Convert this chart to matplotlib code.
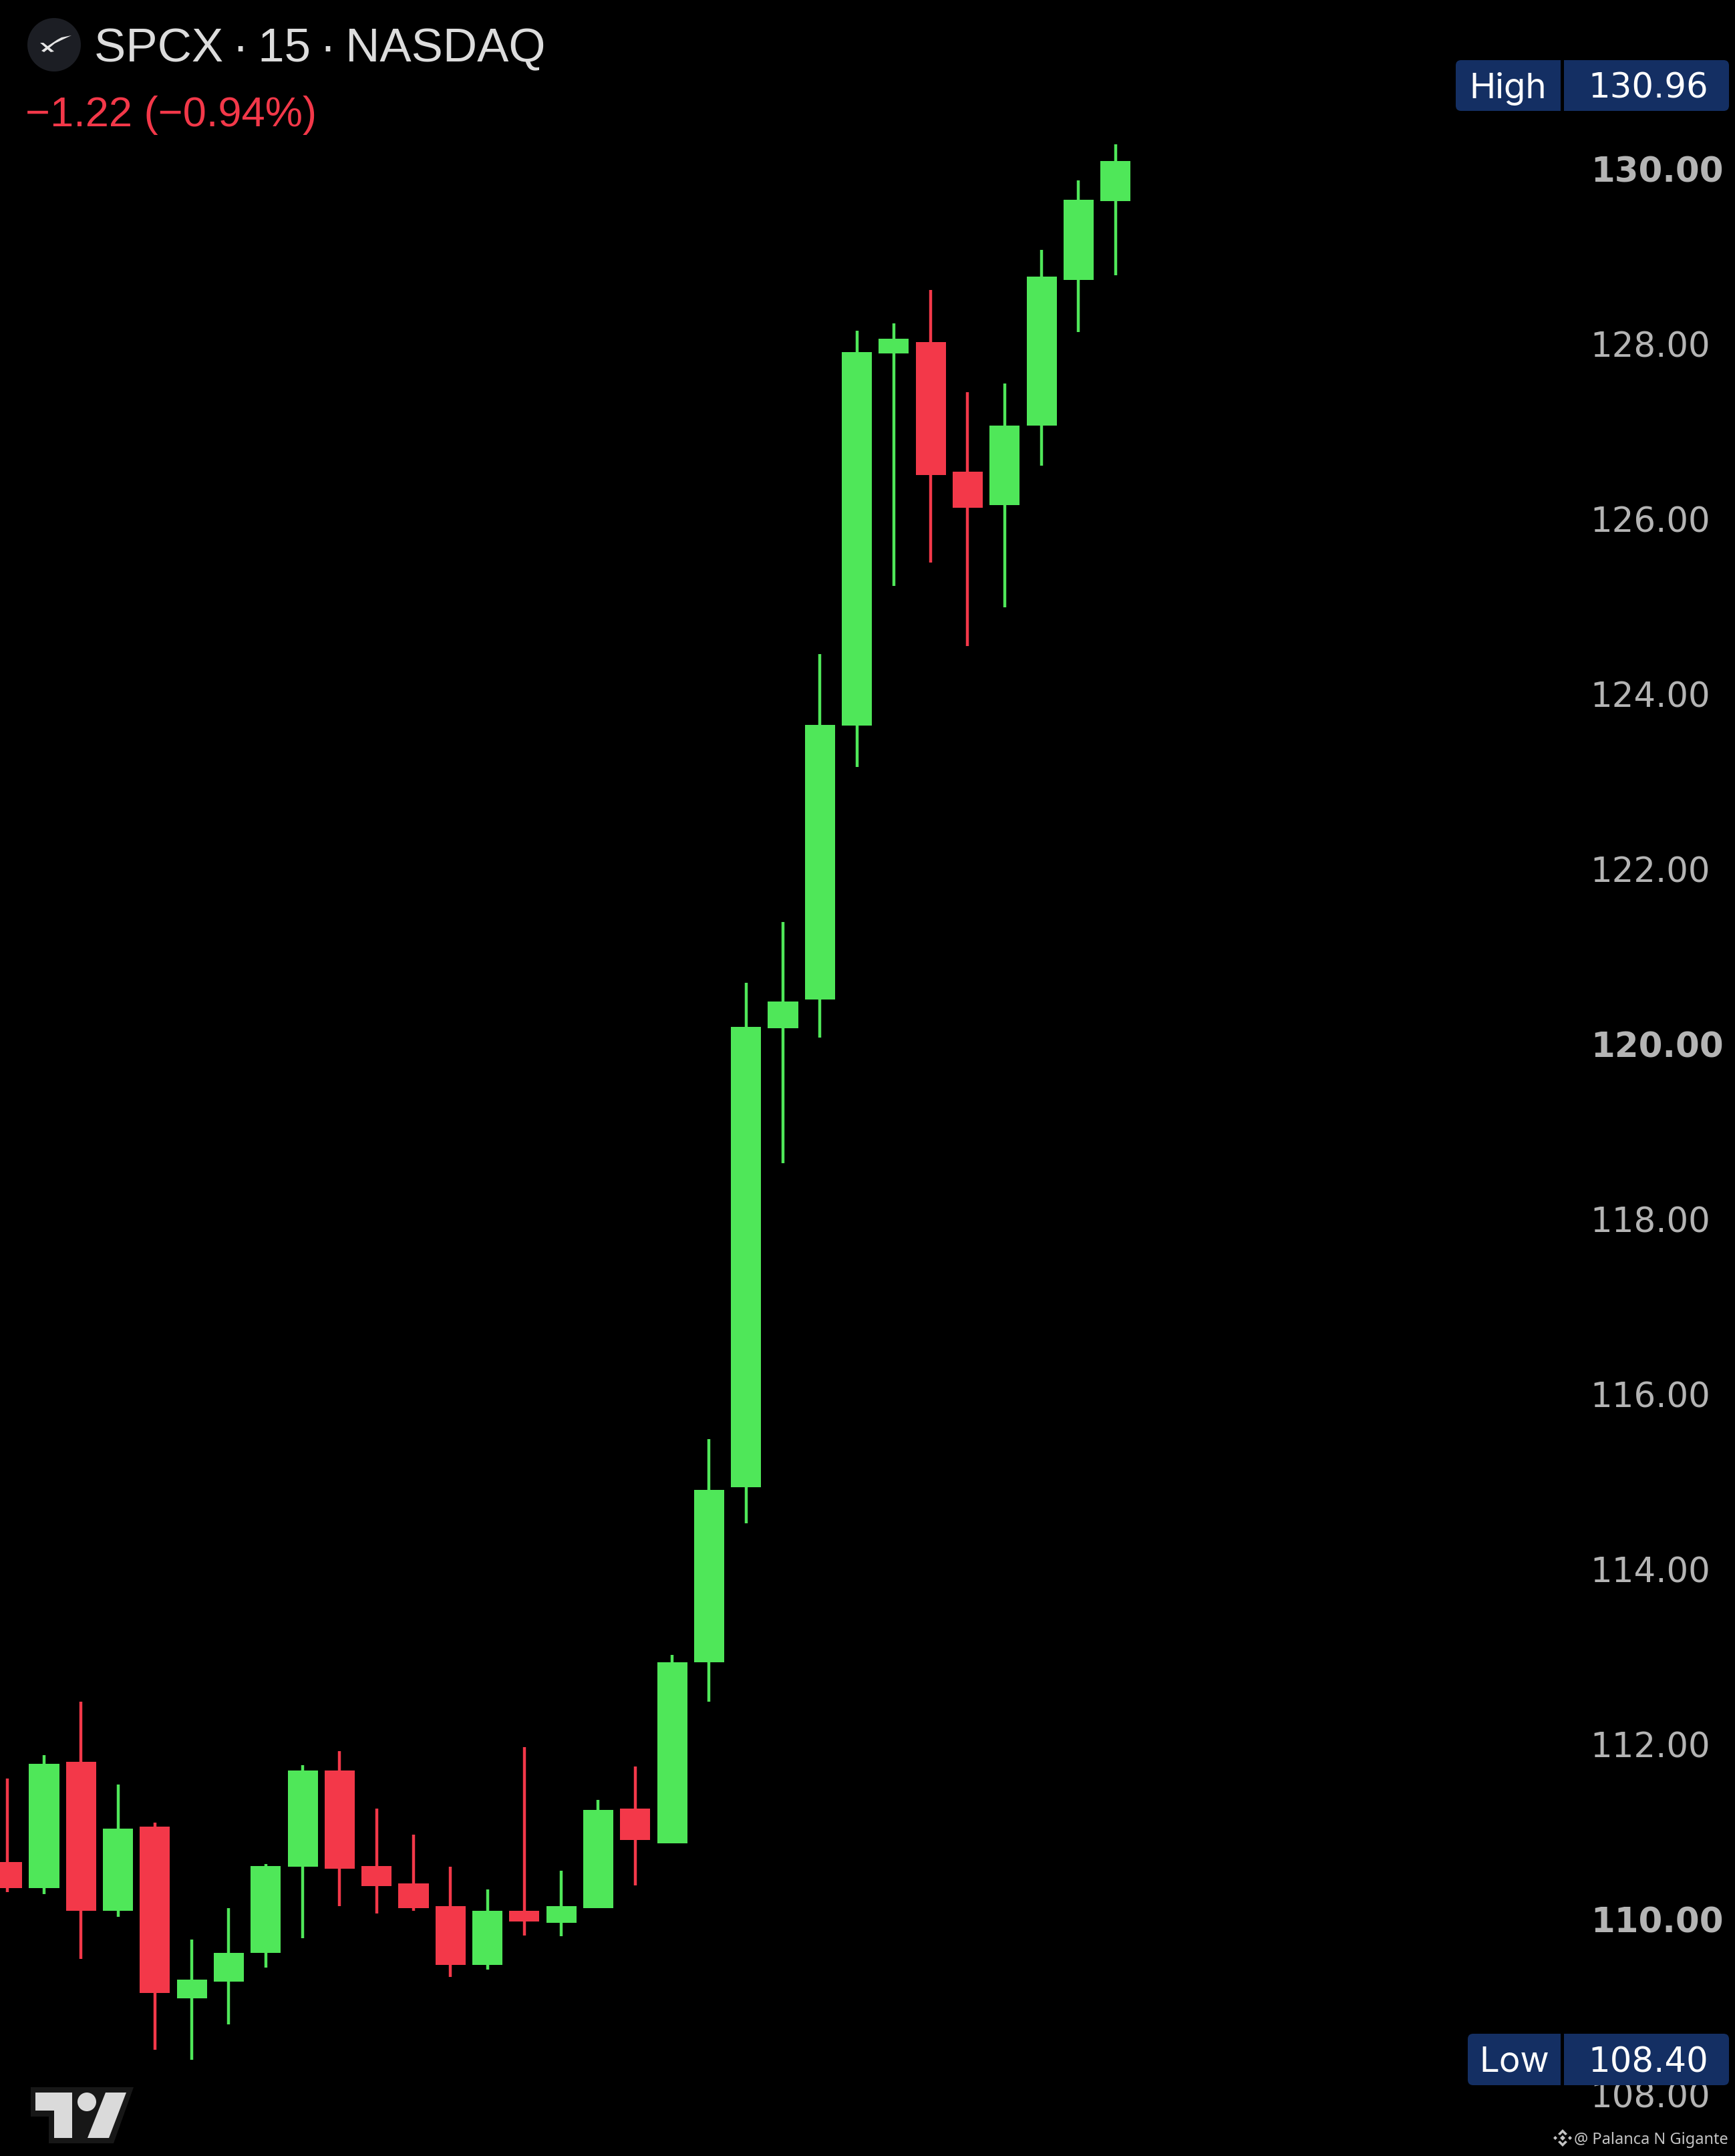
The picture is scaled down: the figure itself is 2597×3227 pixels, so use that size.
import numpy as np
import matplotlib
matplotlib.use("Agg")
import matplotlib.pyplot as plt
from matplotlib.patches import Polygon, Circle, FancyBboxPatch, PathPatch
from matplotlib.path import Path
from matplotlib.transforms import Affine2D

# candles (SPCX 15 min)
opens = [110.66, 110.36, 111.80, 110.10, 111.06, 109.10, 109.29, 109.62, 110.60, 111.70, 110.61, 110.41, 110.15,
         109.48, 110.10, 109.96, 110.13, 111.27, 110.87, 112.94, 114.94, 120.18, 120.51, 123.64, 127.89, 128.02,
         126.54, 126.16, 127.07, 128.73, 129.63]
highs = [111.61, 111.88, 112.49, 111.54, 111.11, 109.77, 110.13, 110.63, 111.76, 111.92, 111.27, 110.97, 110.60,
         110.34, 111.97, 110.56, 111.37, 111.75, 113.02, 115.49, 120.70, 121.40, 124.46, 128.15, 128.24, 128.62,
         127.45, 127.55, 129.08, 129.87, 130.28]
lows = [110.31, 110.29, 109.55, 110.03, 108.51, 108.40, 108.80, 109.45, 109.79, 110.15, 110.07, 110.10, 109.34,
        109.43, 109.82, 109.81, 110.13, 110.39, 110.87, 112.49, 114.53, 118.64, 120.08, 123.17, 125.24, 125.50,
        124.55, 124.99, 126.61, 128.14, 128.79]
closes = [110.36, 111.78, 110.10, 111.04, 109.16, 109.31, 109.62, 110.61, 111.70, 110.58, 110.38, 110.13, 109.48,
          110.10, 109.98, 110.15, 111.25, 110.91, 112.94, 114.91, 120.20, 120.49, 123.65, 127.91, 128.06, 126.50,
          126.13, 127.07, 128.77, 129.65, 130.09]

price_ticks = [130, 128, 126, 124, 122, 120, 118, 116, 114, 112, 110, 108]
bold_ticks = [130, 120, 110]

GREEN = "#4fe759"
RED = "#f33849"
NAVY = "#142f63"
TICK_GREY = "#b4b4b4"
UI_FONT = ["Inter", "DejaVu Sans"]
HEAD_FONT = ["Liberation Sans", "DejaVu Sans"]
DIGIT_FONT = ["DejaVu Sans"]

W, H = 2597, 3227
fig = plt.figure(figsize=(W / 100, H / 100), dpi=100, facecolor="black")
ax = fig.add_axes([0, 0, 1, 1], facecolor="black")
px = Affine2D().scale(1 / W, -1 / H).translate(0, 1) + fig.transFigure

idx = np.arange(len(opens))
op, hi, lo, cl = map(np.array, (opens, highs, lows, closes))
colors = [GREEN if c >= o else RED for o, c in zip(op, cl)]

ax.vlines(idx, lo, hi, colors=colors, linewidth=3.2, capstyle="butt", zorder=2)
ax.bar(idx, np.abs(cl - op), bottom=np.minimum(op, cl), width=0.814, color=colors, linewidth=0, zorder=3)

# candle spacing is 55.3 px, first candle centre at 10.7 px; 131 px per price unit, 130 at 253 px
ax.set_xlim(-10.7 / 55.3, (W - 10.7) / 55.3)
ax.set_ylim(130 - (H - 253) / 131, 130 + 253 / 131)
ax.set_xticks([])
for s in ax.spines.values():
    s.set_visible(False)

ax.set_yticks(price_ticks)
ax.set_yticklabels([f"{p:.2f}" for p in price_ticks])
ax.tick_params(axis="y", left=False, right=False, labelleft=False, labelright=True,
               pad=-(W - 2376) * 0.72, labelsize=37, labelcolor=TICK_GREY)
for p, lab in zip(price_ticks, ax.get_yticklabels(which="major")):
    lab.set_family(DIGIT_FONT)
    if p in bold_ticks:
        lab.set_fontweight("bold")
for lab in ax.yaxis.get_ticklabels():
    lab.set_horizontalalignment("left")


def badge(x0, x1, y0, y1, name, value, name_x):
    box = FancyBboxPatch((x0 + 8, y0 + 8), x1 - x0 - 16, y1 - y0 - 16, boxstyle="round,pad=8,rounding_size=8",
                         facecolor=NAVY, edgecolor="none", transform=px, zorder=5)
    fig.add_artist(box)
    fig.add_artist(Polygon([(2336, y0 - 1), (2341, y0 - 1), (2341, y1 + 1), (2336, y1 + 1)], closed=True,
                           facecolor="black", edgecolor="none", transform=px, zorder=6))
    mid = (y0 + y1) / 2 - 1
    fig.text(name_x, mid, name, transform=px, color="white", fontsize=38, family=UI_FONT,
             ha="left", va="center_baseline", zorder=7)
    fig.text(2377, mid, value, transform=px, color="white", fontsize=37, family=DIGIT_FONT,
             ha="left", va="center_baseline", zorder=7)


badge(2179, 2588, 90, 166, "High", "130.96", 2199)
badge(2197, 2588, 3044, 3121, "Low", "108.40", 2214)

# header
fig.add_artist(Circle((81, 67), 40, facecolor="#1c1e24", edgecolor="none", transform=px, zorder=5))
swoosh = Path([(62, 76), (80, 62), (92, 56), (107, 53), (94, 59), (82, 65), (66, 78), (62, 76)],
              [Path.MOVETO, Path.CURVE3, Path.CURVE3, Path.LINETO, Path.CURVE3, Path.CURVE3, Path.LINETO, Path.CLOSEPOLY])
fig.add_artist(PathPatch(swoosh, facecolor="#e6e6e6", edgecolor="none", transform=px, zorder=6))
fig.add_artist(Polygon([(60, 64), (65, 64), (81, 77), (76, 78)], closed=True, facecolor="#e6e6e6",
                       edgecolor="none", transform=px, zorder=6))
fig.text(141, 67, "SPCX\u2009·\u200915\u2009·\u2009NASDAQ", transform=px, color="#dcdcdc", fontsize=51, family=HEAD_FONT,
         ha="left", va="center_baseline", zorder=7)
fig.text(38, 166, "\u22121.22 (\u22120.94%)", transform=px, color=RED, fontsize=45.5, family=HEAD_FONT,
         ha="left", va="center_baseline", zorder=7)

# TradingView logo
fig.add_artist(Polygon([(46, 3124), (200, 3124), (170, 3208), (73, 3208), (73, 3168), (46, 3168)], closed=True,
                       facecolor="#171717", edgecolor="none", transform=px, zorder=5))
fig.add_artist(Polygon([(53, 3132), (108, 3132), (108, 3200), (81, 3200), (81, 3159), (53, 3159)], closed=True,
                       facecolor="#dadada", edgecolor="none", transform=px, zorder=6))
fig.add_artist(Circle((130, 3146), 14, facecolor="#dadada", edgecolor="none", transform=px, zorder=6))
fig.add_artist(Polygon([(158, 3132), (189, 3132), (163, 3200), (131, 3200)], closed=True, facecolor="#dadada",
                       edgecolor="none", transform=px, zorder=6))

# watermark with the small diamond icon
cx, cy = 2339, 3200
for dx, dy, r in [(0, 0, 4), (-11, 0, 3), (11, 0, 3)]:
    fig.add_artist(Polygon([(cx + dx - r, cy + dy), (cx + dx, cy + dy - r), (cx + dx + r, cy + dy), (cx + dx, cy + dy + r)],
                           closed=True, facecolor="#c4c4c4", edgecolor="none", transform=px, zorder=6))
fig.add_artist(Polygon([(cx - 7, cy - 6), (cx, cy - 13), (cx + 7, cy - 6), (cx + 4, cy - 4), (cx, cy - 8), (cx - 4, cy - 4)],
                       closed=True, facecolor="#c4c4c4", edgecolor="none", transform=px, zorder=6))
fig.add_artist(Polygon([(cx - 7, cy + 6), (cx, cy + 13), (cx + 7, cy + 6), (cx + 4, cy + 4), (cx, cy + 8), (cx - 4, cy + 4)],
                       closed=True, facecolor="#c4c4c4", edgecolor="none", transform=px, zorder=6))
fig.text(2587, 3200, "@ Palanca N Gigante", transform=px, color="#c4c4c4", fontsize=17, family=["Noto Sans", "DejaVu Sans"],
         ha="right", va="center_baseline", zorder=7)

fig.savefig("out.png", dpi=100, facecolor="black")
